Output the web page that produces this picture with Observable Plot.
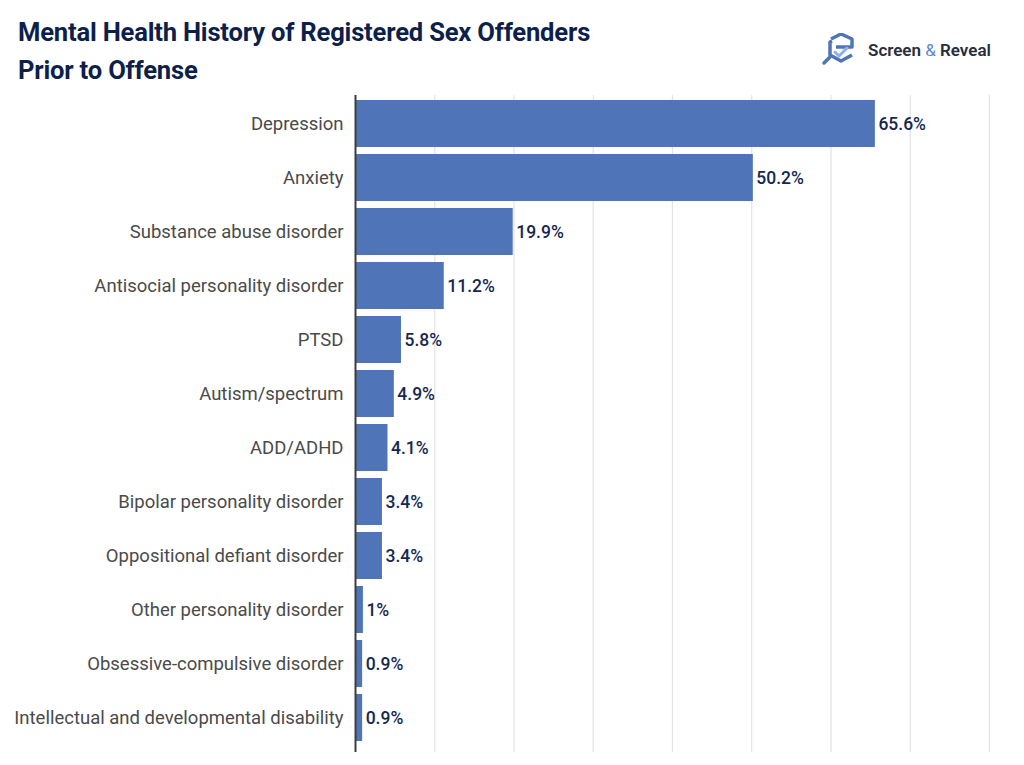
<!DOCTYPE html>
<html><head><meta charset="utf-8">
<script src="https://cdn.jsdelivr.net/npm/d3@7"></script>
<script src="https://cdn.jsdelivr.net/npm/@observablehq/plot@0.6"></script>
<style>
body{margin:0;background:#fff;font-family:Roboto,"Noto Sans",sans-serif;}
#wrap{position:relative;width:1024px;height:765px;overflow:hidden;}
#title{position:absolute;left:18px;top:13px;font-size:25.6px;font-weight:700;color:#0d1f4a;line-height:38px;letter-spacing:-0.2px;}
#logo{position:absolute;left:821px;top:33px;display:flex;align-items:center;gap:9px;}
#logo span{font-size:17px;font-weight:600;color:#2a2d3a;}
#logo .amp{color:#5b87d6;font-weight:400;}
#chart{position:absolute;left:0;top:90px;}
</style></head>
<body><div id="wrap">
<div id="title">Mental Health History of Registered Sex Offenders<br>Prior to Offense</div>
<div id="logo"><svg width="38" height="34" viewBox="0 0 38 34">
<path d="M10 6 L20 1 L31 6 L31 14 L15 14" fill="none" stroke="#4f75b8" stroke-width="3.5" stroke-linejoin="round"/>
<path d="M11 8 L9 9 L9 22 L20 28 L31 22" fill="none" stroke="#4f75b8" stroke-width="3.5" stroke-linejoin="round"/>
<path d="M14 19 L18 23 L26 15" fill="none" stroke="#8fb0ea" stroke-width="3" stroke-linecap="round" stroke-linejoin="round"/>
<path d="M9 24 L3 30" stroke="#4f75b8" stroke-width="3.5" stroke-linecap="round"/>
</svg><span>Screen <span class="amp">&amp;</span> Reveal</span></div>
<div id="chart"></div>
</div>
<script>
const categories = ["Depression","Anxiety","Substance abuse disorder","Antisocial personality disorder","PTSD","Autism/spectrum","ADD/ADHD","Bipolar personality disorder","Oppositional defiant disorder","Other personality disorder","Obsessive-compulsive disorder","Intellectual and developmental disability"];
const values = [65.6,50.2,19.9,11.2,5.8,4.9,4.1,3.4,3.4,1,0.9,0.9];
const labels = ["65.6%","50.2%","19.9%","11.2%","5.8%","4.9%","4.1%","3.4%","3.4%","1%","0.9%","0.9%"];
const gridTicks = [10,20,30,40,50,60,70,80];

const data = categories.map((c,i)=>({cat:c, v:values[i], label:labels[i]}));

const chart = Plot.plot({
  width:1024, height:675,
  marginLeft:355, marginRight:35, marginTop:1, marginBottom:16,
  style:{fontFamily:"Roboto, sans-serif", background:"transparent", overflow:"visible"},
  x:{domain:[0,80], axis:null},
  y:{domain:categories, padding:0.13, label:null, axis:null},
  marks:[
    Plot.ruleX(gridTicks,{stroke:"#e3e3e3", strokeWidth:1.2, insetTop:4, insetBottom:-3}),
    Plot.barX(data,{x:"v", y:"cat", fill:"#4f75b8"}),
    Plot.ruleX([0],{stroke:"#3d3d3d", strokeWidth:2, insetTop:4, insetBottom:-3}),
    Plot.text(data,{x:"v", y:"cat", text:"label", dx:3, textAnchor:"start", fill:"#16284f", fontSize:17.5, fontWeight:500}),
    Plot.axisY({tickSize:0, tickPadding:12, fontSize:18.5, fontWeight:400, label:null, fill:"#4a4a4a"})
  ]
});
document.getElementById("chart").appendChild(chart);
</script>
</body></html>
